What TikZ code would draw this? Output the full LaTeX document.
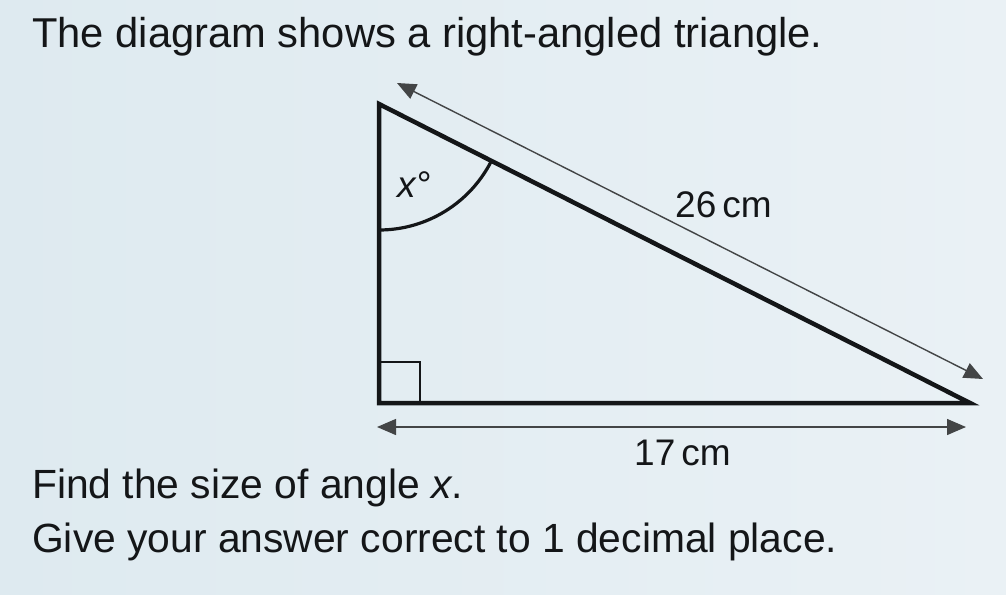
\documentclass[tikz,border=0pt]{standalone}
\usepackage{fontspec}
\setmainfont{Liberation Sans}
\usepackage{tikz}
\usetikzlibrary{calc, positioning}
\usetikzlibrary{shapes, arrows.meta}
\definecolor{paper}{RGB}{222,234,240}
\definecolor{paperlight}{RGB}{234,241,245}
\definecolor{ink}{RGB}{20,22,24}
\tikzset{  
    side/.style = {draw=ink, line width=4.5pt, line join=miter},% the thick edges of the triangle  
    measure/.style = {draw=ink!80, line width=1.4pt, {Triangle[length=19pt,width=16pt]}-{Triangle[length=19pt,width=16pt]}},  
    lbl/.style = {inner sep=0pt, text=ink, font=\fontsize{37}{44}\selectfont},  
    question/.style = {inner sep=0pt, anchor=base west, text=ink, font=\fontsize{41.7}{50}\selectfont}  
}

\begin{document}
\begin{tikzpicture}[x=1pt, y=-1pt]
    \shade[left color=paper, right color=paperlight] (0,0) rectangle (1006,594);
    \useasboundingbox (0,0) rectangle (1006,594);
    % corners of the triangle
    \coordinate (top) at (379,104);
    \coordinate (rt) at (379,403);
    \coordinate (tip) at (970,403);
    % ends of the measuring arrows
    \coordinate (hypA) at (397,83);
    \coordinate (hypB) at (983,379);
    \coordinate (baseA) at (377,427);
    \coordinate (baseB) at (966,427);

    \draw[ink, line width=1.3pt] ($(rt)+(0,-41)$) -| ($(rt)+(41,0)$);
    \draw[ink, line width=3.2pt] ($(top)+(0,126)$) arc[start angle=90, end angle=26.8, radius=126];
    \draw[side] (top) -- (rt) -- (tip) -- cycle;
    \draw[measure] (hypA) -- (hypB);
    \draw[measure] (baseA) -- (baseB);

    \node[lbl, anchor=base west] (angle) at (397,197) {\textit{x}°};
    \node[lbl, anchor=base west] (hyp) at (675,217) {26\,cm};
    \node[lbl, anchor=base west] (base) at (634,465) {17\,cm};

    \node[question] (title) at (32,48) {The diagram shows a right-angled triangle.};
    \node[question, font=\fontsize{40.8}{49}\selectfont] (ask) at (32,498) {Find the size of angle \textit{x}.};
    \node[question, font=\fontsize{40.8}{49}\selectfont] (round) at (32,552) {Give your answer correct to 1 decimal place.};
\end{tikzpicture}
\end{document}
